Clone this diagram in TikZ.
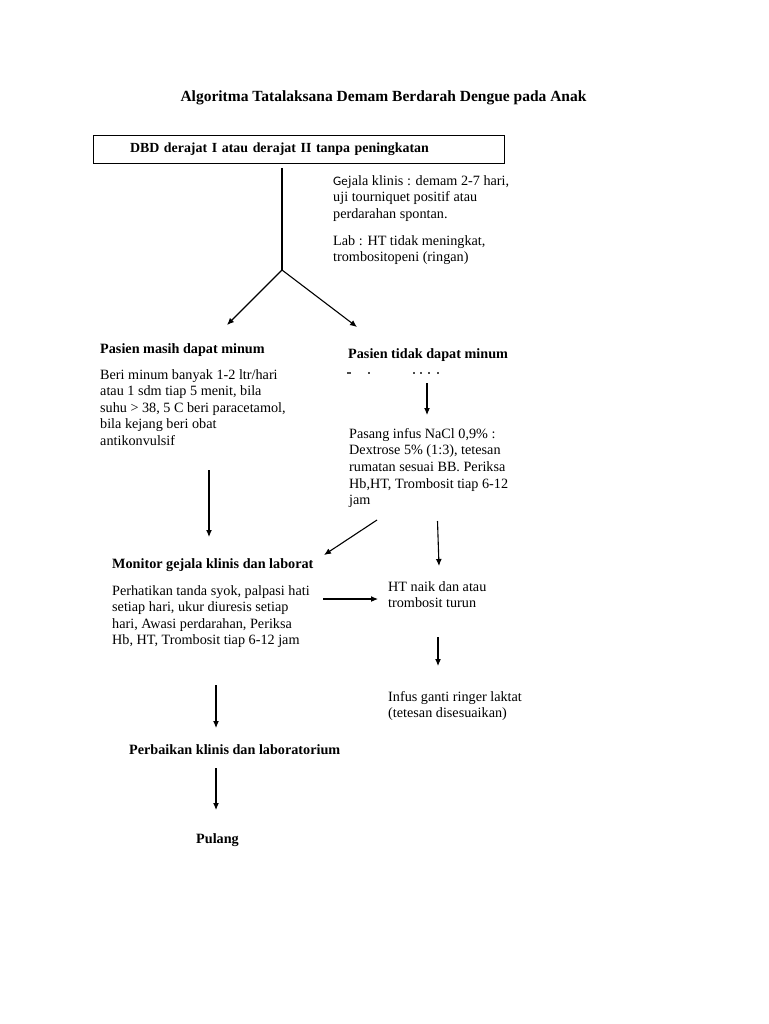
\documentclass[tikz,border=0pt]{standalone}
\usepackage{fontspec}
\setmainfont{Liberation Serif}
\newfontfamily\gefont{Carlito}
\usetikzlibrary{arrows.meta}
\tikzset{
  arr/.style={line width=1.1pt,-{Latex[length=7pt,width=6pt]}},
  ln/.style={line width=1.1pt},
  txt/.style={anchor=north west,inner sep=0pt,align=left,font=\fontsize{14.2}{16.6}\selectfont},
  hd/.style={anchor=north west,inner sep=0pt,align=left,font=\fontsize{14.2}{16.6}\selectfont\bfseries},
}
\begin{document}
\begin{tikzpicture}[x=1pt,y=-1pt]
\useasboundingbox (0,0) rectangle (768,1024);
\node[anchor=center,inner sep=0pt,font=\fontsize{15.5}{16}\selectfont\bfseries] (title) at (383.5,98) {Algoritma Tatalaksana Demam Berdarah Dengue pada Anak};
\node[draw,line width=0.9pt,minimum width=411pt,minimum height=28pt,inner xsep=37pt,inner ysep=0pt,text width=337pt,align=left,font=\fontsize{13.9}{16}\selectfont\bfseries] (dbd) at (298.5,149) {DBD derajat I atau derajat II tanpa peningkatan};
\node[txt] (gejala) at (333,175) {{\gefont\fontsize{13}{16}\selectfont Ge}jala klinis : demam 2-7 hari,\\uji tourniquet positif atau\\perdarahan spontan.};
\node[txt] (lab) at (333,235) {Lab : HT tidak meningkat,\\trombositopeni (ringan)};
\node[hd] (masih) at (100,343) {Pasien masih dapat minum};
\node[hd] (tidak) at (348,348) {Pasien tidak dapat minum};
\node[txt] (beri) at (100,369) {Beri minum banyak 1-2 ltr/hari\\atau 1 sdm tiap 5 menit, bila\\suhu > 38, 5 C beri paracetamol,\\bila kejang beri obat\\antikonvulsif};
\node[txt] (pasang) at (349,428) {Pasang infus NaCl 0,9\% :\\Dextrose 5\% (1:3), tetesan\\rumatan sesuai BB. Periksa\\Hb,HT, Trombosit tiap 6-12\\jam};
\node[hd] (monitor) at (112,558) {Monitor gejala klinis dan laborat};
\node[txt] (perhatikan) at (112,585) {Perhatikan tanda syok, palpasi hati\\setiap hari, ukur diuresis setiap\\hari, Awasi perdarahan, Periksa\\Hb, HT, Trombosit tiap 6-12 jam};
\node[txt] (htnaik) at (388,581) {HT naik dan atau\\trombosit turun};
\node[txt] (infus) at (388,691) {Infus ganti ringer laktat\\(tetesan disesuaikan)};
\node[hd] (perbaikan) at (129,744) {Perbaikan klinis dan laboratorium};
\node[hd] (pulang) at (196,833) {Pulang};
% clipped marks
\fill[black!70] (347,372) rectangle (351,373.5);
\fill[black!70] (368,372) rectangle (370,373.5);
\fill[black!70] (413,372) rectangle (415,373.5);
\fill[black!70] (420,372) rectangle (422,373.5);
\fill[black!70] (428,372) rectangle (430,373.5);
\fill[black!70] (437,372) rectangle (439,373.5);
% coordinates
\coordinate (t0) at (282,168);
\coordinate (split) at (282,270);
\coordinate (eL) at (227,325);
\coordinate (eR) at (357,327);
\coordinate (a1s) at (427,383); \coordinate (a1e) at (427,415);
\coordinate (a2s) at (209,470); \coordinate (a2e) at (209,537);
\coordinate (a3s) at (377,520); \coordinate (a3e) at (324,555);
\coordinate (a4s) at (437.5,521); \coordinate (a4e) at (439,566);
\coordinate (a5s) at (323,599); \coordinate (a5e) at (378,599);
\coordinate (a6s) at (438,637); \coordinate (a6e) at (438,666);
\coordinate (a7s) at (216,685); \coordinate (a7e) at (216,728);
\coordinate (a8s) at (216,768); \coordinate (a8e) at (216,810);
\draw[ln] (t0) -- (split);
\draw[arr] (split) -- (eL);
\draw[arr] (split) -- (eR);
\draw[arr] (a1s) -- (a1e);
\draw[arr] (a2s) -- (a2e);
\draw[arr] (a3s) -- (a3e);
\draw[arr] (a4s) -- (a4e);
\draw[arr] (a5s) -- (a5e);
\draw[arr] (a6s) -- (a6e);
\draw[arr] (a7s) -- (a7e);
\draw[arr] (a8s) -- (a8e);
\end{tikzpicture}
\end{document}
